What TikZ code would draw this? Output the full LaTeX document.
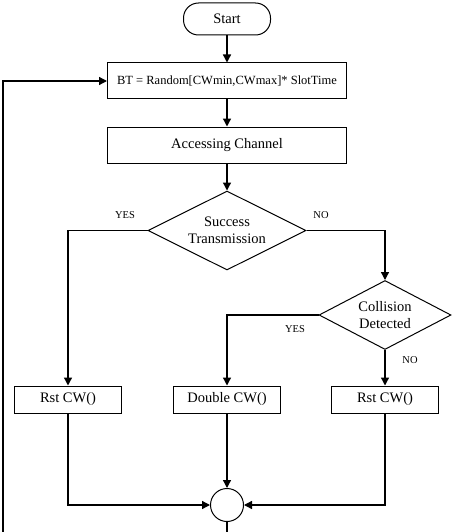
\documentclass[tikz,border=0pt]{standalone}
\usepackage{fontspec}
\setmainfont{Liberation Serif}
\usetikzlibrary{positioning,arrows.meta,shapes.geometric,calc}
\tikzset{
  term/.style={draw, line width=1pt, rounded corners=15pt, font=\fontsize{14.5}{17}\selectfont,
               minimum width=87pt, minimum height=32pt, inner sep=0pt},
  proc/.style={draw, line width=1pt, font=\fontsize{14.5}{17}\selectfont,
               minimum width=239pt, minimum height=36pt, inner sep=0pt},
  act/.style={draw, line width=1pt, font=\fontsize{14.5}{17}\selectfont,
              minimum width=107pt, minimum height=27pt, inner sep=0pt},
  dec/.style={draw, line width=1pt, diamond, aspect=2, inner sep=0pt, align=center,
              font=\fontsize{14.5}{17}\selectfont},
  joint/.style={draw, line width=1pt, circle, minimum size=33pt, inner sep=0pt},
  flow/.style={-{Triangle[length=8pt,width=8pt]}, line width=1.3pt},
  lbl/.style={font=\fontsize{10.5}{12}\selectfont, inner sep=1pt},
}
\begin{document}
\begin{tikzpicture}[x=1pt, y=-1pt]
    \useasboundingbox (0,0) rectangle (453,532);
    \node[term] (start) at (227,19) {Start};
    \node[proc, below=27pt of start, font=\fontsize{12.5}{15}\selectfont] (bt) {BT = Random[CWmin,CWmax]* SlotTime};
    \node[proc, below=27pt of bt] (acc) {Accessing Channel};
    \node[dec, below=27pt of acc, minimum width=158pt, minimum height=79pt] (succ) {Success\\Transmission};
    \node[dec, minimum width=132pt, minimum height=69pt] (coll) at (385,315) {Collision\\Detected};

    \node[act] (rst1) at (68,399.5) {Rst CW()};
    \node[act] (dbl) at (227,399.5) {Double CW()};
    \node[act] (rst2) at (385,399.5) {Rst CW()};
    \node[joint] (merge) at (227,505) {};

    \node[lbl] (yes1) at (125,215) {YES};
    \node[lbl] (no1) at (321,215) {NO};
    \node[lbl] (yes2) at (295,329) {YES};
    \node[lbl] (no2) at (410,360) {NO};

    \draw[flow] (start) -- (bt);
    \draw[flow] (bt) -- (acc);
    \draw[flow] (acc) -- (succ);
    \draw[flow] (succ.west) -| (rst1);
    \draw[flow] (succ.east) -| (coll.north);
    \draw[flow] (coll.west) -| (dbl);
    \draw[flow] (coll.south) -- (rst2);
    \draw[flow] (rst1) |- (merge.west);
    \draw[flow] (dbl) -- (merge);
    \draw[flow] (rst2) |- (merge.east);

    \coordinate (loop) at (3,545);
    \draw[flow] (merge.south) |- (loop) |- (bt.west);
  \end{tikzpicture}
\end{document}
